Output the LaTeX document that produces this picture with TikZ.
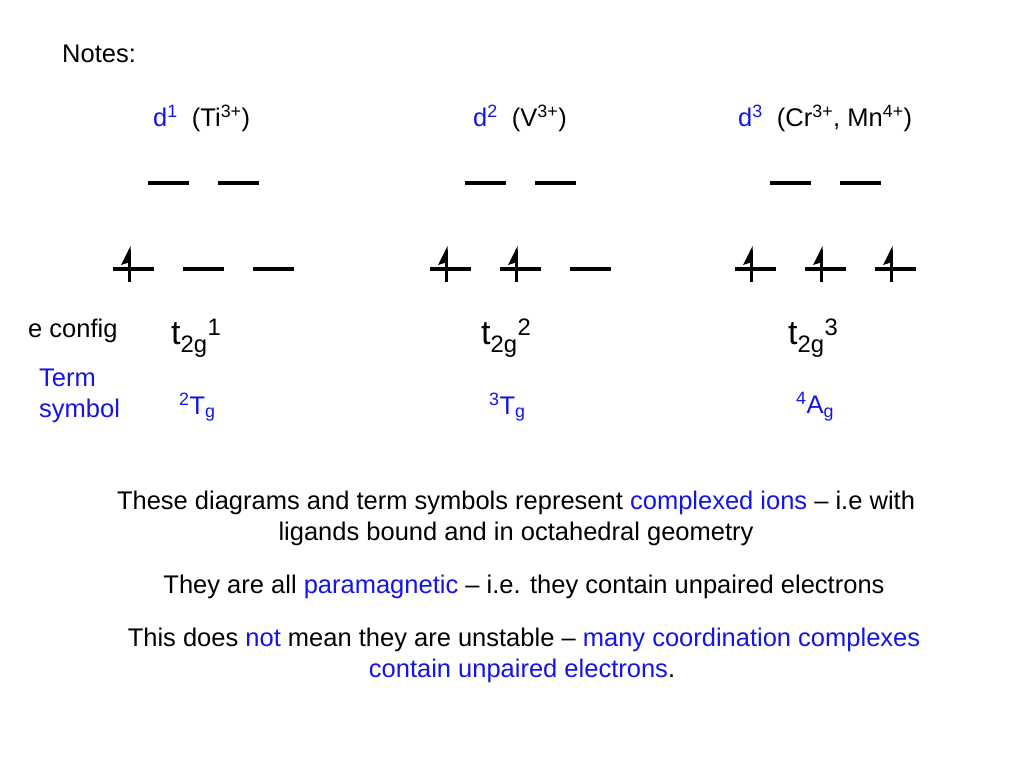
\documentclass[tikz,border=0pt]{standalone}
\usepackage{fontspec}
\setmainfont{Liberation Sans}
\usetikzlibrary{positioning}
\definecolor{tblue}{RGB}{20,20,230}
\newcommand{\up}[1]{\textsuperscript{#1}}
\begin{document}
\begin{tikzpicture}[x=1pt,y=-1pt,
  every node/.style={inner sep=0pt,font=\fontsize{25.5}{31}\selectfont},
  level/.style={line width=3.5pt},
  spin/.style={line width=3pt},
  big/.style={font=\fontsize{34}{40}\selectfont}]
  \useasboundingbox (0,0) rectangle (1024,768);
  \node[anchor=west] (notes) at (62,54) {Notes:};
  % ion labels
  \node[anchor=west] (ion1) at (153,118) {\textcolor{tblue}{d\up{1}}\ \ (Ti\up{3+})};
  \node[anchor=west] (ion2) at (473,118) {\textcolor{tblue}{d\up{2}}\ \ (V\up{3+})};
  \node[anchor=west] (ion3) at (738,118) {\textcolor{tblue}{d\up{3}}\ \ (Cr\up{3+}, Mn\up{4+})};
  % orbital levels
  \foreach \dx/\ne in {0/1,317/2,622/3} {
    \draw[level] (148+\dx,183) -- (189+\dx,183);
    \draw[level] (218+\dx,183) -- (259+\dx,183);
    \foreach \k in {0,1,2} {
      \draw[level] (113+\dx+70*\k,269) -- (154+\dx+70*\k,269);
      \ifnum\k<\ne
        \draw[spin] (129+\dx+70*\k,282) -- (129+\dx+70*\k,250);
        \fill (130.5+\dx+70*\k,246) -- (121+\dx+70*\k,265) -- (130.5+\dx+70*\k,262) -- cycle;
      \fi
    }
  }
  % configurations
  \node[anchor=west] (econf) at (28,331) {e config};
  \node[big,anchor=west] (t1) at (171,338) {t\textsubscript{2g}\up{1}};
  \node[big,anchor=west] (t2) at (481,338) {t\textsubscript{2g}\up{2}};
  \node[big,anchor=west] (t3) at (788,338) {t\textsubscript{2g}\up{3}};
  \node[anchor=north west,align=left,text=tblue] (term) at (39,369) {Term\\symbol};
  \node[anchor=west,text=tblue] (s1) at (179,407) {\up{2}T\textsubscript{g}};
  \node[anchor=west,text=tblue] (s2) at (489,407) {\up{3}T\textsubscript{g}};
  \node[anchor=west,text=tblue] (s3) at (796,407) {\up{4}A\textsubscript{g}};
  % notes
  \node (l1) at (516,503) {These diagrams and term symbols represent \textcolor{tblue}{complexed ions} -- i.e with};
  \node (l2) at (516,534) {ligands bound and in octahedral geometry};
  \node (l3) at (524,587) {They are all \textcolor{tblue}{paramagnetic} -- i.e. they contain unpaired electrons};
  \node (l4) at (524,640) {This does \textcolor{tblue}{not} mean they are unstable -- \textcolor{tblue}{many coordination complexes}};
  \node (l5) at (522,671) {\textcolor{tblue}{contain unpaired electrons}.};
\end{tikzpicture}
\end{document}
